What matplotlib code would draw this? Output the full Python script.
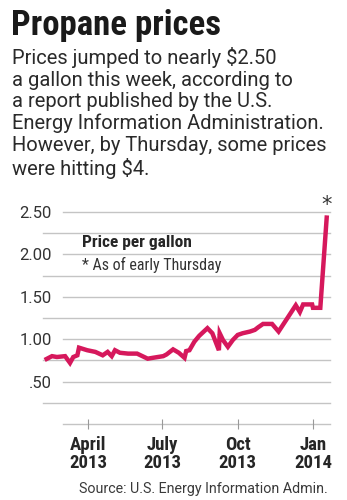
import matplotlib
matplotlib.use("Agg")
import matplotlib.pyplot as plt
import numpy as np
import matplotlib.dates as mdates

# ---- data ----
dates = ["2013-02-07", "2013-02-16", "2013-02-22", "2013-03-04", "2013-03-10", "2013-03-14",
         "2013-03-19", "2013-03-21", "2013-03-31", "2013-04-10", "2013-04-19", "2013-04-25",
         "2013-04-30", "2013-05-04", "2013-05-10", "2013-05-20", "2013-05-31", "2013-06-13",
         "2013-06-19", "2013-07-02", "2013-07-06", "2013-07-14", "2013-07-21", "2013-07-28",
         "2013-07-30", "2013-08-03", "2013-08-09", "2013-08-15", "2013-08-25", "2013-08-31",
         "2013-09-08", "2013-09-09", "2013-09-13", "2013-09-19", "2013-09-25", "2013-10-01",
         "2013-10-07", "2013-10-16", "2013-10-22", "2013-10-26", "2013-11-01", "2013-11-12",
         "2013-11-20", "2013-12-11", "2013-12-16", "2013-12-20", "2013-12-31", "2014-01-01",
         "2014-01-10", "2014-01-18"]
prices = [0.755, 0.80, 0.79, 0.80, 0.72, 0.79, 0.81, 0.90, 0.87, 0.85, 0.81, 0.85,
          0.80, 0.87, 0.84, 0.83, 0.83, 0.77, 0.78, 0.80, 0.82, 0.88, 0.84, 0.78,
          0.86, 0.87, 0.97, 1.04, 1.13, 1.07, 0.87, 1.07, 0.99, 0.91, 0.99, 1.05,
          1.07, 1.09, 1.11, 1.14, 1.18, 1.18, 1.09, 1.40, 1.32, 1.41, 1.41, 1.37,
          1.37, 2.46]
tick_dates = ["2013-04-01", "2013-07-01", "2013-10-01", "2014-01-01"]
tick_labels = ["April\n2013", "July\n2013", "Oct\n2013", "Jan\n2014"]
major_grid = [0.0, 0.5, 1.0, 1.5, 2.0, 2.5]
minor_grid = [0.25, 0.75, 1.25, 1.75, 2.25]
ytick_vals = [0.5, 1.0, 1.5, 2.0, 2.5]
ytick_labels = [".50", "1.00", "1.50", "2.00", "2.50"]

title = "Propane prices"
subtitle = ("Prices jumped to nearly $2.50\n"
            "a gallon this week, according to\n"
            "a report published by the U.S.\n"
            "Energy Information Administration.\n"
            "However, by Thursday, some prices\n"
            "were hitting $4.")
source = "Source: U.S. Energy Information Admin."

# ---- style ----
COND = ["Roboto Condensed", "Archivo Narrow", "DejaVu Sans"]
BODY = ["Roboto", "Liberation Sans", "DejaVu Sans"]
RED = "#d6185c"
GRID = "#c4c4c4"
TXT = "#262626"

W, H = 347, 500
fig = plt.figure(figsize=(W / 100, H / 100), dpi=100)
fig.patch.set_facecolor("white")

def fx(px):
    return px / W

def fy(py):
    return 1 - py / H

ax_l, ax_r, ax_b, ax_t = 63, 330, 424, 203.5
ax = fig.add_axes([fx(ax_l), fy(ax_b), fx(ax_r) - fx(ax_l), fy(ax_t) - fy(ax_b)])
ax.set_facecolor("none")

x = mdates.datestr2num(dates)
ref = mdates.datestr2num("2013-04-01")
px_per_day = 0.818
ax.set_xlim(ref - (88 - ax_l) / px_per_day, ref + (ax_r - 88) / px_per_day)
ax.set_ylim(0, 2.6)

for v in major_grid:
    ax.axhline(v, xmin=0, xmax=1, color=GRID, lw=1.0, zorder=1, clip_on=False)
for v in minor_grid:
    ax.axhline(v, xmin=-(ax_l - 43) / (ax_r - ax_l), xmax=1, color=GRID, lw=1.0, zorder=1, clip_on=False)

ax.plot(x, prices, color=RED, lw=3.2, solid_joinstyle="miter", solid_capstyle="butt",
        zorder=3, clip_on=False)

for s in ax.spines.values():
    s.set_visible(False)

ax.set_xticks(mdates.datestr2num(tick_dates))
ax.set_xticklabels(tick_labels, family=COND, fontweight="bold", fontsize=13.5,
                   color=TXT, linespacing=1.0)
ax.tick_params(axis="x", direction="inout", length=7.5, width=0.8, color="#999999", pad=5)

ax.set_yticks(ytick_vals)
ax.set_yticklabels(ytick_labels, family=BODY, fontsize=12, color="#333333")
ax.tick_params(axis="y", length=0, pad=8)

# asterisk above last point
ax.annotate("*", xy=(x[-1], prices[-1]), xytext=(0, 0), textcoords="offset points",
            ha="center", va="bottom", fontsize=15, color="#333333", family="DejaVu Sans",
            annotation_clip=False)

# in-chart labels
fig.text(fx(82), fy(242), "Price per gallon", family=COND, fontweight="bold",
         fontsize=12.5, color=TXT, va="center", ha="left")
fig.text(fx(82), fy(265), "* As of early Thursday", family=COND,
         fontsize=11.5, color="#333333", va="center", ha="left")

# header
fig.text(fx(11), fy(9), title, family=COND, fontweight=900, fontsize=25,
         color="#1a1a1a", va="top", ha="left")
fig.text(fx(12), fy(47), subtitle, family=BODY, fontsize=14.5, color="#2a2a2a",
         va="top", ha="left", linespacing=1.17)

fig.text(fx(328), fy(489), source, family=BODY, fontsize=10.3, color="#3a3a3a",
         va="center", ha="right")

fig.savefig("out.png", dpi=100, facecolor="white")
